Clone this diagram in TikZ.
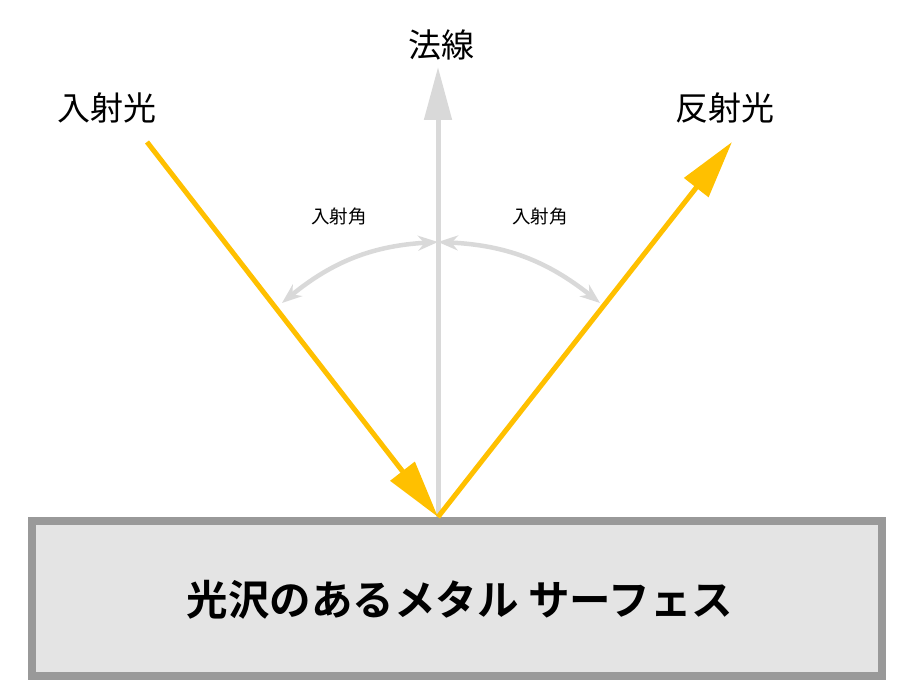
\documentclass[tikz,border=0pt]{standalone}
\usepackage{fontspec}
\newfontfamily\cjk{Noto Sans CJK JP}
\newfontfamily\cjkb{Noto Sans CJK JP Bold}
\usetikzlibrary{arrows.meta}
\definecolor{ray}{HTML}{FFC000}
\definecolor{normalc}{HTML}{D9D9D9}
\definecolor{boxfill}{HTML}{E4E4E4}
\definecolor{boxdraw}{HTML}{999999}
\tikzset{
  lbl/.style={font=\cjk\fontsize{33}{38}\selectfont, inner sep=0pt},
  small/.style={font=\cjk\fontsize{18.5}{22}\selectfont, inner sep=0pt},
  rayline/.style={draw=ray, line width=5pt},
  normline/.style={draw=normalc, line width=5pt},
  anglearc/.style={draw=normalc, line width=4.5pt, {Stealth[length=20pt,width=15pt]}-{Stealth[length=20pt,width=15pt]}},
  surface/.style={draw=boxdraw, fill=boxfill, line width=8pt}
}
\begin{document}
\begin{tikzpicture}[x=1pt,y=1pt]
\useasboundingbox (0,0) rectangle (900,698);
\draw[surface] (32,177) rectangle (882,22);
\node[font=\cjkb\fontsize{41.5}{48}\selectfont, inner sep=0pt] (surf) at (460,98) {光沢のあるメタル サーフェス};
\coordinate (hit) at (438,181);
\coordinate (src) at (147,556);
\coordinate (ntop) at (438,631);
\coordinate (rtop) at (732,556);
\coordinate (la) at (438,456);
\coordinate (lb) at (282,395);
\coordinate (ra) at (600,395);
% normal
\draw[normline, -{Triangle[length=53pt,width=27pt]}] (hit) -- (ntop);
% angle arcs
\draw[anglearc] (la) to[bend right=18] (lb);
\draw[anglearc] (la) to[bend left=18] (ra);
% rays
\draw[rayline, -{Triangle[length=58pt,width=30pt]}] (src) -- (hit);
\draw[rayline, -{Triangle[length=58pt,width=30pt]}] (hit) -- (rtop);
% labels
\node[lbl] (inc) at (107,590) {入射光};
\node[lbl] (nrm) at (441,653) {法線};
\node[lbl] (refl) at (725,590) {反射光};
\node[small] (a1) at (339,482) {入射角};
\node[small] (a2) at (540,482) {入射角};
\end{tikzpicture}
\end{document}
